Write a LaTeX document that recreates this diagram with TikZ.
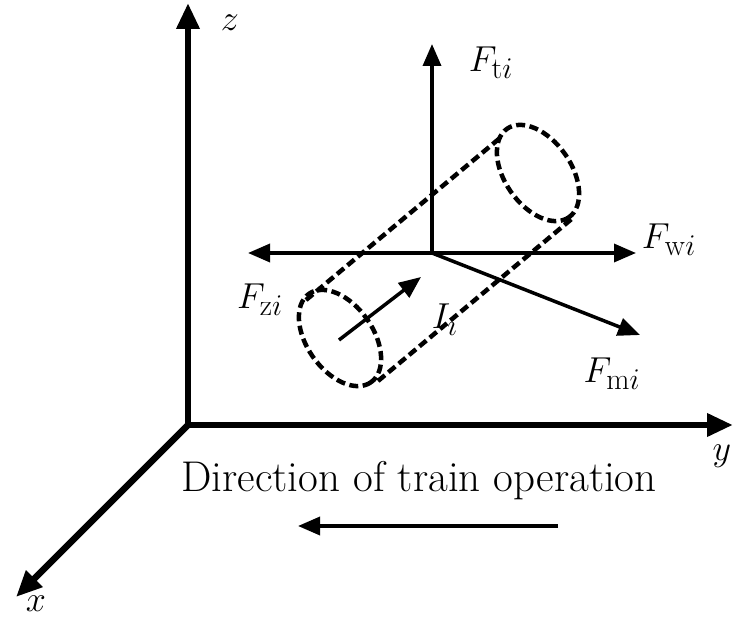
\documentclass[tikz,border=0pt]{standalone}
\usepackage{graphicx}
\usetikzlibrary{arrows.meta}
\newcommand{\biglab}[1]{\scalebox{1.45}{\Huge #1}}
\begin{document}
\begin{tikzpicture}[x=1pt,y=-1pt,
 axis/.style={line width=6.5pt,-{Triangle[length=26pt,width=22pt]}},
 force/.style={line width=3.5pt,-{Triangle[length=22pt,width=18pt]}},
 cyl/.style={line width=4.5pt,dash pattern=on 9pt off 4.5pt},
 lab/.style={}]
\useasboundingbox (0,0) rectangle (734,623);
\coordinate (O) at (188,425);
\coordinate (Z) at (188,3);
\coordinate (Y) at (733,425);
\coordinate (X) at (16,597);
\draw[axis] (O) -- (Z);
\draw[axis] (O) -- (Y);
\draw[axis] (O) -- (X);
\node[lab] (zl) at (230,23) {\biglab{$z$}};
\node[lab] (yl) at (722,456) {\biglab{$y$}};
\node[lab] (xl) at (36,604) {\biglab{$x$}};
\coordinate (C) at (432,253);
\coordinate (Ft) at (432,44);
\coordinate (Fw) at (636,253);
\coordinate (Fl) at (248,253);
\coordinate (Fm) at (640,335);
\draw[force] (C) -- (Ft);
\draw[force] (C) -- (Fw);
\draw[force] (C) -- (Fl);
\draw[force] (C) -- (Fm);
\node[lab] (ftl) at (491,63) {\biglab{$F_{\mathrm{t}i}$}};
\node[lab] (fwl) at (669,240) {\biglab{$F_{\mathrm{w}i}$}};
\node[lab] (fzl) at (260,300) {\biglab{$F_{\mathrm{z}i}$}};
\node[lab] (fml) at (612,374) {\biglab{$F_{\mathrm{m}i}$}};
\draw[cyl] (538,173) ellipse[x radius=54, y radius=33, rotate=-55];
\draw[cyl] (340,338) ellipse[x radius=54, y radius=33, rotate=-55];
\draw[cyl] (306,300) -- (500,138);
\draw[cyl] (378,381) -- (574,217);
\coordinate (Ia) at (339,340);
\coordinate (Ib) at (421,277);
\draw[force] (Ia) -- (Ib);
\node[lab] (il) at (445,320) {\biglab{$I_i$}};
\node[font=\fontsize{43}{48}\selectfont] (dl) at (419,481) {Direction of train operation};
\coordinate (Da) at (558,526);
\coordinate (Db) at (298,526);
\draw[force] (Da) -- (Db);
\end{tikzpicture}
\end{document}
